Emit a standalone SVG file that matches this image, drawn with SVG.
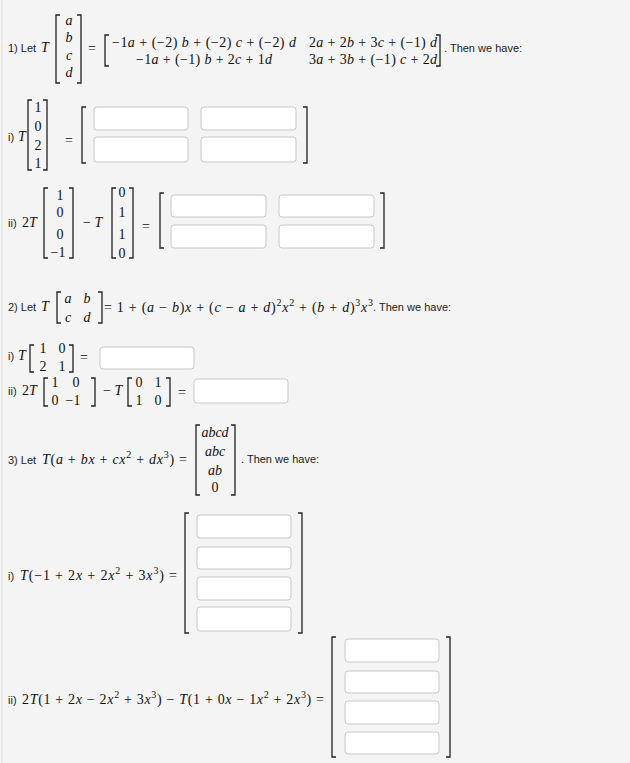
<svg xmlns="http://www.w3.org/2000/svg" width="630" height="763" viewBox="0 0 630 763">
<style>
.l{font-family:"Liberation Sans",Arial,sans-serif;font-size:11px;fill:#222}
.m{font-family:"Liberation Serif","Times New Roman",serif;font-size:14px;fill:#111}
.i{font-style:italic}
.b{fill:none;stroke:#222;stroke-width:1.3}
.box{fill:#fff;stroke:#c8c8c8;stroke-width:1}
.s{font-size:10px}
</style>
<rect x="0" y="0" width="630" height="763" fill="#f4f4f4"/>
<line x1="2" y1="0" x2="2" y2="763" stroke="#e2e2e2"/>
<g id="p1">
<text class="l" x="8" y="52">1) Let</text>
<text class="m i" x="41" y="52">T</text>
<path class="b" d="M60,15 H56 V83 H60 M77,15 H81 V83 H77"/>
<g class="m i" font-size="11" text-anchor="middle"><text x="69" y="25">a</text><text x="69" y="42">b</text><text x="69" y="60">c</text><text x="69" y="77">d</text></g>
<text class="m" x="88" y="53">=</text>
<path class="b" d="M109,35 H105 V66 H109 M436,35 H440 V66 H436"/>
<text class="m" x="112" y="47" textLength="184" lengthAdjust="spacing">−1<tspan class="i">a</tspan> + (−2) <tspan class="i">b</tspan> + (−2) <tspan class="i">c</tspan> + (−2) <tspan class="i">d</tspan></text>
<text class="m" x="309" y="47" textLength="128" lengthAdjust="spacing">2<tspan class="i">a</tspan> + 2<tspan class="i">b</tspan> + 3<tspan class="i">c</tspan> + (−1) <tspan class="i">d</tspan></text>
<text class="m" x="136" y="64" textLength="136" lengthAdjust="spacing">−1<tspan class="i">a</tspan> + (−1) <tspan class="i">b</tspan> + 2<tspan class="i">c</tspan> + 1<tspan class="i">d</tspan></text>
<text class="m" x="309" y="64" textLength="128" lengthAdjust="spacing">3<tspan class="i">a</tspan> + 3<tspan class="i">b</tspan> + (−1) <tspan class="i">c</tspan> + 2<tspan class="i">d</tspan></text>
<text class="l" x="444" y="52">. Then we have:</text>
</g>
<g id="p1i">
<text class="l" x="8" y="141">i)</text>
<text class="m i" x="18" y="141">T</text>
<path class="b" d="M32,100 H28 V170 H32 M43,100 H47 V170 H43"/>
<g class="m" font-size="12" text-anchor="middle"><text x="38" y="112">1</text><text x="38" y="131">0</text><text x="38" y="150">2</text><text x="38" y="168">1</text></g>
<text class="m" x="65" y="145">=</text>
<path class="b" d="M86,107 H82 V163 H86 M303,107 H307 V163 H303"/>
<rect class="box" x="94" y="107" width="94" height="23" rx="3"/><rect class="box" x="201" y="107" width="95" height="23" rx="3"/>
<rect class="box" x="94" y="137" width="94" height="25" rx="3"/><rect class="box" x="201" y="137" width="95" height="25" rx="3"/>
</g>
<g id="p1ii">
<text class="l" x="8" y="227">ii)</text>
<text class="m" x="22" y="227">2<tspan class="i">T</tspan></text>
<path class="b" d="M48,188 H44 V258 H48 M69,188 H73 V258 H69"/>
<g class="m" font-size="12" text-anchor="middle"><text x="60" y="200">1</text><text x="60" y="217">0</text><text x="60" y="239">0</text><text x="58" y="257">−1</text></g>
<text class="m" x="83" y="227">− <tspan class="i">T</tspan></text>
<path class="b" d="M116,188 H112 V258 H116 M129,188 H133 V258 H129"/>
<g class="m" font-size="12" text-anchor="middle"><text x="122" y="197">0</text><text x="122" y="217">1</text><text x="122" y="239">1</text><text x="122" y="258">0</text></g>
<text class="m" x="142" y="231">=</text>
<path class="b" d="M164,193 H160 V248 H164 M380,193 H384 V248 H380"/>
<rect class="box" x="171" y="195" width="95" height="22" rx="3"/><rect class="box" x="279" y="195" width="95" height="22" rx="3"/>
<rect class="box" x="171" y="225" width="95" height="23" rx="3"/><rect class="box" x="279" y="225" width="95" height="23" rx="3"/>
</g>
<g id="p2">
<text class="l" x="8" y="311">2) Let</text>
<text class="m i" x="41" y="311">T</text>
<path class="b" d="M61,292 H57 V323 H61 M98,292 H102 V323 H98"/>
<g class="m i" font-size="11" text-anchor="middle"><text x="68" y="303">a</text><text x="87" y="303">b</text><text x="68" y="322">c</text><text x="87" y="322">d</text></g>
<text class="m" x="104" y="312" textLength="269" lengthAdjust="spacing">= 1 + (<tspan class="i">a</tspan> − <tspan class="i">b</tspan>)<tspan class="i">x</tspan> + (<tspan class="i">c</tspan> − <tspan class="i">a</tspan> + <tspan class="i">d</tspan>)<tspan class="s" dy="-6">2</tspan><tspan class="i" dy="6">x</tspan><tspan class="s" dy="-6">2</tspan><tspan dy="6"> + (</tspan><tspan class="i">b</tspan> + <tspan class="i">d</tspan>)<tspan class="s" dy="-6">3</tspan><tspan class="i" dy="6">x</tspan><tspan class="s" dy="-6">3</tspan></text>
<text class="l" x="373" y="311">. Then we have:</text>
</g>
<g id="p2i">
<text class="l" x="8" y="360">i)</text>
<text class="m i" x="18" y="360">T</text>
<path class="b" d="M34,345 H30 V372 H34 M69,345 H73 V372 H69"/>
<g class="m" font-size="12" text-anchor="middle"><text x="43" y="353">1</text><text x="62" y="353">0</text><text x="43" y="371">2</text><text x="62" y="371">1</text></g>
<text class="m" x="80" y="362">=</text>
<rect class="box" x="100" y="347" width="94" height="22" rx="3"/>
</g>
<g id="p2ii">
<text class="l" x="8" y="395">ii)</text>
<text class="m" x="22" y="395">2<tspan class="i">T</tspan></text>
<path class="b" d="M48,378 H44 V406 H48 M91,378 H95 V406 H91"/>
<g class="m" font-size="12" text-anchor="middle"><text x="55" y="387">1</text><text x="76" y="387">0</text><text x="55" y="405">0</text><text x="73" y="405">−1</text></g>
<text class="m" x="103" y="395">− <tspan class="i">T</tspan></text>
<path class="b" d="M132,378 H128 V406 H132 M166,378 H170 V406 H166"/>
<g class="m" font-size="12" text-anchor="middle"><text x="139" y="387">0</text><text x="158" y="387">1</text><text x="139" y="405">1</text><text x="158" y="405">0</text></g>
<text class="m" x="178" y="397">=</text>
<rect class="box" x="194" y="379" width="94" height="24" rx="3"/>
</g>
<g id="p3">
<text class="l" x="8" y="464">3) Let</text>
<text class="m" x="42" y="464" textLength="145" lengthAdjust="spacing"><tspan class="i">T</tspan>(<tspan class="i">a</tspan> + <tspan class="i">bx</tspan> + <tspan class="i">cx</tspan><tspan class="s" dy="-6">2</tspan><tspan dy="6"> + </tspan><tspan class="i">dx</tspan><tspan class="s" dy="-6">3</tspan><tspan dy="6">) =</tspan></text>
<path class="b" d="M200,425 H196 V495 H200 M231,425 H235 V495 H231"/>
<g class="m i" font-size="12" text-anchor="middle"><text x="215" y="437">abcd</text><text x="215" y="456">abc</text><text x="215" y="475">ab</text><text x="215" y="492" font-style="normal">0</text></g>
<text class="l" x="241" y="463">. Then we have:</text>
</g>
<g id="p3i">
<text class="l" x="8" y="580">i)</text>
<text class="m" x="20" y="580" textLength="157" lengthAdjust="spacing"><tspan class="i">T</tspan>(−1 + 2<tspan class="i">x</tspan> + 2<tspan class="i">x</tspan><tspan class="s" dy="-6">2</tspan><tspan dy="6"> + 3</tspan><tspan class="i">x</tspan><tspan class="s" dy="-6">3</tspan><tspan dy="6">) =</tspan></text>
<path class="b" d="M189,513 H185 V633 H189 M298,513 H302 V633 H298"/>
<rect class="box" x="197" y="515" width="94" height="23" rx="3"/>
<rect class="box" x="197" y="547" width="94" height="22" rx="3"/>
<rect class="box" x="197" y="577" width="94" height="23" rx="3"/>
<rect class="box" x="197" y="607" width="94" height="24" rx="3"/>
</g>
<g id="p3ii">
<text class="l" x="8" y="704">ii)</text>
<text class="m" x="22" y="704" textLength="302" lengthAdjust="spacing">2<tspan class="i">T</tspan>(1 + 2<tspan class="i">x</tspan> − 2<tspan class="i">x</tspan><tspan class="s" dy="-6">2</tspan><tspan dy="6"> + 3</tspan><tspan class="i">x</tspan><tspan class="s" dy="-6">3</tspan><tspan dy="6">) − </tspan><tspan class="i">T</tspan>(1 + 0<tspan class="i">x</tspan> − 1<tspan class="i">x</tspan><tspan class="s" dy="-6">2</tspan><tspan dy="6"> + 2</tspan><tspan class="i">x</tspan><tspan class="s" dy="-6">3</tspan><tspan dy="6">) =</tspan></text>
<path class="b" d="M336,637 H332 V757 H336 M446,637 H450 V757 H446"/>
<rect class="box" x="345" y="639" width="94" height="23" rx="3"/>
<rect class="box" x="345" y="671" width="94" height="22" rx="3"/>
<rect class="box" x="345" y="701" width="94" height="23" rx="3"/>
<rect class="box" x="345" y="732" width="94" height="22" rx="3"/>
</g>
</svg>
